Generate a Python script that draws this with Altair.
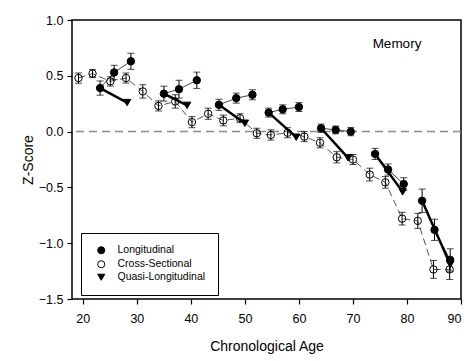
import altair as alt
import pandas as pd

# ---- data ----
long_age = [23.2, 25.8, 28.9, 35.0, 37.8, 41.1, 45.2, 48.4, 51.4, 54.4, 57.0, 60.0,
            64.1, 66.8, 69.6, 74.1, 76.5, 79.4, 82.8, 85.1, 88.0]
long_z = [0.39, 0.53, 0.63, 0.34, 0.38, 0.46, 0.24, 0.30, 0.33, 0.17, 0.20, 0.22,
          0.03, 0.015, 0.0, -0.20, -0.34, -0.47, -0.62, -0.88, -1.15]
long_se = [0.064, 0.064, 0.072, 0.067, 0.08, 0.073, 0.05, 0.045, 0.045, 0.04, 0.04, 0.04,
           0.037, 0.035, 0.037, 0.05, 0.05, 0.057, 0.105, 0.095, 0.1]
long_grp = [1, 1, 1, 2, 2, 2, 3, 3, 3, 4, 4, 4, 5, 5, 5, 6, 6, 6, 7, 7, 7]

cs_age = [19.2, 21.8, 25.1, 28.0, 31.1, 34.0, 37.1, 40.2, 43.2, 46.0, 49.1, 52.2,
          54.8, 57.9, 61.0, 63.9, 67.0, 70.0, 73.1, 76.0, 79.1, 82.0, 84.9, 87.9]
cs_z = [0.48, 0.52, 0.45, 0.48, 0.36, 0.23, 0.27, 0.085, 0.16, 0.10, 0.12, -0.015,
        -0.03, -0.01, -0.045, -0.10, -0.23, -0.25, -0.385, -0.455, -0.78, -0.80, -1.235, -1.235]
cs_se = [0.046, 0.036, 0.042, 0.045, 0.06, 0.045, 0.06, 0.05, 0.05, 0.048, 0.04, 0.045,
         0.046, 0.045, 0.045, 0.045, 0.05, 0.045, 0.057, 0.052, 0.057, 0.067, 0.08, 0.09]

quasi_age = [28.2, 39.3, 50.0, 59.5, 69.1, 79.2, 88.0]
quasi_z = [0.26, 0.235, 0.075, -0.05, -0.235, -0.54, -1.19]
quasi_grp = [1, 2, 3, 4, 5, 6, 7]

types = ["Longitudinal", "Cross-Sectional", "Quasi-Longitudinal"]

# ---- tables ----
long_df = pd.DataFrame({"age": long_age, "z": long_z, "se": long_se, "grp": long_grp})
long_df["type"] = types[0]
cs_df = pd.DataFrame({"age": cs_age, "z": cs_z, "se": cs_se})
cs_df["type"] = types[1]
q_df = pd.DataFrame({"age": quasi_age, "z": quasi_z, "grp": quasi_grp})
q_df["type"] = types[2]

err_df = pd.concat([long_df, cs_df], ignore_index=True)
err_df["lo"] = err_df["z"] - err_df["se"]
err_df["hi"] = err_df["z"] + err_df["se"]

first = long_df.groupby("grp").first().reset_index()[["grp", "age", "z"]]
qline_df = pd.concat([first, q_df[["grp", "age", "z"]]], ignore_index=True)

pts_df = pd.concat([long_df[["age", "z", "type"]], cs_df[["age", "z", "type"]],
                    q_df[["age", "z", "type"]]], ignore_index=True)
zero_df = pd.DataFrame({"z": [0.0]})

FONT = "Liberation Sans"
xscale = alt.Scale(domain=[18, 90], nice=False, zero=False)
yscale = alt.Scale(domain=[-1.5, 1.0], nice=False)
X = alt.X("age:Q", scale=xscale, title="Chronological Age",
          axis=alt.Axis(values=[20, 30, 40, 50, 60, 70, 80, 90], format="d",
                        titlePadding=15))
Y = alt.Y("z:Q", scale=yscale, title="Z-Score",
          axis=alt.Axis(values=[-1.5, -1.0, -0.5, 0.0, 0.5, 1.0], format=".1f",
                        titlePadding=3, labelPadding=4))

zero = alt.Chart(zero_df).mark_rule(color="#8a8a8a", strokeWidth=1.5,
                                    strokeDash=[8, 5]).encode(y=alt.Y("z:Q", scale=yscale))

cs_line = alt.Chart(cs_df).mark_line(color="#555555", strokeWidth=1,
                                     strokeDash=[7, 4]).encode(x=X, y=Y)
long_line = alt.Chart(long_df).mark_line(color="#444444", strokeWidth=1).encode(
    x=X, y=Y, detail="grp:N")
q_line = alt.Chart(qline_df).mark_line(color="black", strokeWidth=2.5).encode(
    x=X, y=Y, detail="grp:N")

err_rule = alt.Chart(err_df).mark_rule(color="black", strokeWidth=1).encode(
    x=alt.X("age:Q", scale=xscale), y=alt.Y("lo:Q", scale=yscale), y2="hi:Q")
cap_lo = alt.Chart(err_df).mark_tick(color="black", orient="horizontal", size=7,
                                     thickness=1).encode(
    x=alt.X("age:Q", scale=xscale), y=alt.Y("lo:Q", scale=yscale))
cap_hi = alt.Chart(err_df).mark_tick(color="black", orient="horizontal", size=7,
                                     thickness=1).encode(
    x=alt.X("age:Q", scale=xscale), y=alt.Y("hi:Q", scale=yscale))

legend = alt.Legend(title=None, orient="none", legendX=9, legendY=213,
                    strokeColor="black", padding=12,
                    symbolOffset=3, labelOffset=11, labelFont=FONT,
                    labelFontSize=10.5, labelColor="black", rowPadding=2,
                    symbolSize=50, symbolStrokeWidth=1,
                    fillColor="white")
points = alt.Chart(pts_df).mark_point(filled=True, strokeWidth=1,
                                      size=55, opacity=1).encode(
    x=X, y=Y,
    shape=alt.Shape("type:N", scale=alt.Scale(domain=types,
                    range=["circle", "circle", "triangle-down"]), legend=legend),
    fill=alt.Fill("type:N", scale=alt.Scale(domain=types,
                  range=["black", "transparent", "black"]), legend=legend),
    stroke=alt.Stroke("type:N", scale=alt.Scale(domain=types,
                      range=["black", "black", "black"]), legend=legend),
)

label = alt.Chart(zero_df).mark_text(text="Memory", font=FONT, fontSize=13.5,
                                     color="black", align="center",
                                     baseline="middle").encode(
    x=alt.value(325), y=alt.value(24))

chart = alt.layer(zero, cs_line, long_line, q_line, err_rule, cap_lo, cap_hi,
                  points, label).properties(
    width=389, height=279,
    autosize=alt.AutoSizeParams(type="none"),
    padding={"left": 64, "top": 12, "right": 5, "bottom": 62},
).configure_view(stroke="black", strokeWidth=1.5).configure_axis(
    grid=False, domain=False, tickColor="black", tickSize=5, tickWidth=1.2,
    labelFont=FONT, labelFontSize=12.5, labelColor="black",
    titleFont=FONT, titleFontSize=14, titleFontWeight="normal", titleColor="black",
).configure_axisX(labelPadding=8)

chart.save("out.html", embed_options={"renderer": "svg", "actions": False})
